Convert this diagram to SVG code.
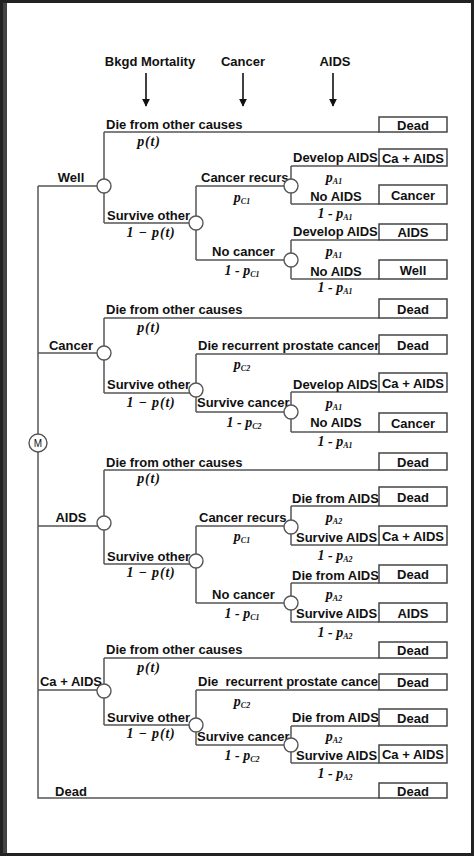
<svg xmlns="http://www.w3.org/2000/svg" width="474" height="856" viewBox="0 0 474 856">
<style>
.ln{stroke:#555;stroke-width:1.5;fill:none}
.ar{stroke:#111;stroke-width:1.6;fill:none}
.box{fill:#fff;stroke:#444;stroke-width:1.5}
.nd{fill:#fff;stroke:#555;stroke-width:1.4}
.t{font-family:"Liberation Sans",Arial,sans-serif;font-weight:bold;font-size:13px;fill:#111;white-space:pre}
.m{text-anchor:middle}
.p{font-family:"Liberation Serif","Times New Roman",serif;font-weight:bold;font-style:italic;font-size:14px;fill:#111;text-anchor:middle}
.pt{letter-spacing:0.8px}
.s{font-size:8px}
</style>
<defs>
<marker id="ah" viewBox="0 0 10 10" refX="9" refY="5" markerWidth="8" markerHeight="8" markerUnits="userSpaceOnUse" orient="auto">
<path d="M0,0 L10,5 L0,10 Z" fill="#111"/>
</marker>
</defs>
<rect x="0" y="0" width="474" height="856" fill="#fff"/>
<rect x="0" y="0" width="7" height="856" fill="#444"/>
<rect x="1.5" y="1.5" width="471" height="853" fill="none" stroke="#222" stroke-width="3"/>

<g id="headers">
<text class="t m" x="150" y="66">Bkgd Mortality</text>
<text class="t m" x="243" y="66">Cancer</text>
<text class="t m" x="335" y="66">AIDS</text>
<path class="ar" d="M146,73 V106" marker-end="url(#ah)"/>
<path class="ar" d="M243,73 V106" marker-end="url(#ah)"/>
<path class="ar" d="M333,73 V106" marker-end="url(#ah)"/>
</g>

<g id="connectors">
<path class="ln" d="M38,186 V798 H379"/>
<path class="ln" d="M38,186 H104 M104,132 V223 M104,132 H379 M104,223 H196 M196,186 V260 M196,186 H291 M196,260 H291 M291,166 V204 M291,166 H379 M291,204 H379 M291,240 V279 M291,240 H379 M291,279 H379"/>
<path class="ln" d="M38,353 H104 M104,318 V393 M104,318 H379 M104,393 H196 M196,354 V412 M196,354 H379 M196,412 H291 M291,392 V432 M291,392 H379 M291,432 H379"/>
<path class="ln" d="M38,526 H104 M104,470 V564 M104,470 H379 M104,564 H196 M196,526 V603 M196,526 H291 M196,603 H291 M291,506 V545 M291,506 H379 M291,545 H379 M291,583 V622 M291,583 H379 M291,622 H379"/>
<path class="ln" d="M38,690 H104 M104,658 V725 M104,658 H379 M104,725 H196 M196,690 V745 M196,690 H379 M196,745 H291 M291,726 V763 M291,726 H379 M291,763 H379"/>

<g id="labels-well">
<text class="t m" x="71" y="182">Well</text>
<text class="t" x="106" y="129">Die from other causes</text>
<text class="p pt" x="149" y="146">p(t)</text>
<text class="t" x="107" y="220">Survive other</text>
<text class="p pt" x="151" y="237">1 − p(t)</text>
<text class="t" x="201" y="182">Cancer recurs</text>
<text class="p" x="242" y="202">p<tspan class="s" dy="2">C1</tspan></text>
<text class="t" x="212" y="256">No cancer</text>
<text class="p" x="242" y="275">1 - p<tspan class="s" dy="2">C1</tspan></text>
<text class="t" x="293" y="162">Develop AIDS</text>
<text class="p" x="334" y="182">p<tspan class="s" dy="2">A1</tspan></text>
<text class="t m" x="336" y="201">No AIDS</text>
<text class="p" x="335" y="218">1 - p<tspan class="s" dy="2">A1</tspan></text>
<text class="t" x="293" y="236">Develop AIDS</text>
<text class="p" x="334" y="256">p<tspan class="s" dy="2">A1</tspan></text>
<text class="t m" x="336" y="276">No AIDS</text>
<text class="p" x="335" y="292">1 - p<tspan class="s" dy="2">A1</tspan></text>
</g>

<g id="labels-cancer">
<text class="t m" x="71" y="350">Cancer</text>
<text class="t" x="106" y="314">Die from other causes</text>
<text class="p pt" x="149" y="332">p(t)</text>
<text class="t" x="107" y="389">Survive other</text>
<text class="p pt" x="151" y="407">1 − p(t)</text>
<text class="t" x="198" y="350">Die recurrent prostate cancer</text>
<text class="p" x="242" y="369">p<tspan class="s" dy="2">C2</tspan></text>
<text class="t" x="197" y="407">Survive cancer</text>
<text class="p" x="244" y="427">1 - p<tspan class="s" dy="2">C2</tspan></text>
<text class="t" x="293" y="389">Develop AIDS</text>
<text class="p" x="334" y="408">p<tspan class="s" dy="2">A1</tspan></text>
<text class="t m" x="336" y="427">No AIDS</text>
<text class="p" x="335" y="446">1 - p<tspan class="s" dy="2">A1</tspan></text>
</g>

<g id="labels-aids">
<text class="t m" x="71" y="522">AIDS</text>
<text class="t" x="106" y="467">Die from other causes</text>
<text class="p pt" x="149" y="483">p(t)</text>
<text class="t" x="107" y="561">Survive other</text>
<text class="p pt" x="151" y="577">1 − p(t)</text>
<text class="t" x="199" y="522">Cancer recurs</text>
<text class="p" x="242" y="541">p<tspan class="s" dy="2">C1</tspan></text>
<text class="t" x="212" y="599">No cancer</text>
<text class="p" x="242" y="618">1 - p<tspan class="s" dy="2">C1</tspan></text>
<text class="t" x="292" y="503">Die from AIDS</text>
<text class="p" x="334" y="522">p<tspan class="s" dy="2">A2</tspan></text>
<text class="t" x="296" y="542">Survive AIDS</text>
<text class="p" x="335" y="560">1 - p<tspan class="s" dy="2">A2</tspan></text>
<text class="t" x="292" y="580">Die from AIDS</text>
<text class="p" x="334" y="599">p<tspan class="s" dy="2">A2</tspan></text>
<text class="t" x="296" y="618">Survive AIDS</text>
<text class="p" x="335" y="637">1 - p<tspan class="s" dy="2">A2</tspan></text>
</g>

<g id="labels-caaids">
<text class="t m" x="71" y="686">Ca + AIDS</text>
<text class="t" x="106" y="654">Die from other causes</text>
<text class="p pt" x="149" y="672">p(t)</text>
<text class="t" x="107" y="722">Survive other</text>
<text class="p pt" x="151" y="738">1 − p(t)</text>
<text class="t" x="198" y="686">Die  recurrent prostate cancer</text>
<text class="p" x="242" y="706">p<tspan class="s" dy="2">C2</tspan></text>
<text class="t" x="197" y="741">Survive cancer</text>
<text class="p" x="242" y="760">1 - p<tspan class="s" dy="2">C2</tspan></text>
<text class="t" x="292" y="722">Die from AIDS</text>
<text class="p" x="334" y="741">p<tspan class="s" dy="2">A2</tspan></text>
<text class="t" x="296" y="760">Survive AIDS</text>
<text class="p" x="335" y="778">1 - p<tspan class="s" dy="2">A2</tspan></text>
<text class="t m" x="71" y="796">Dead</text>
</g>
</g>

<g id="markov-node"><circle class="nd" cx="38" cy="443" r="9"/><text x="38" y="447" text-anchor="middle" font-family="Liberation Sans, Arial, sans-serif" font-size="10" fill="#111">M</text></g>

<g id="well-chance1"><circle class="nd" cx="104" cy="186" r="7"/></g>
<g id="well-chance2"><circle class="nd" cx="196" cy="223" r="7"/></g>
<g id="well-chance3"><circle class="nd" cx="291" cy="186" r="7"/></g>
<g id="well-chance4"><circle class="nd" cx="291" cy="260" r="7"/></g>
<g id="well-t1"><rect class="box" x="379" y="117" width="68" height="15"/><text class="t m" x="413" y="129.5">Dead</text></g>
<g id="well-t2"><rect class="box" x="379" y="149" width="68" height="17"/><text class="t m" x="413" y="162.5">Ca + AIDS</text></g>
<g id="well-t3"><rect class="box" x="379" y="185" width="68" height="19"/><text class="t m" x="413" y="199.5">Cancer</text></g>
<g id="well-t4"><rect class="box" x="379" y="224" width="68" height="16"/><text class="t m" x="413" y="237">AIDS</text></g>
<g id="well-t5"><rect class="box" x="379" y="260" width="68" height="19"/><text class="t m" x="413" y="274.5">Well</text></g>

<g id="cancer-chance1"><circle class="nd" cx="104" cy="353" r="7"/></g>
<g id="cancer-chance2"><circle class="nd" cx="196" cy="390" r="7"/></g>
<g id="cancer-chance3"><circle class="nd" cx="291" cy="412" r="7"/></g>
<g id="cancer-t1"><rect class="box" x="379" y="299" width="68" height="19"/><text class="t m" x="413" y="313.5">Dead</text></g>
<g id="cancer-t2"><rect class="box" x="379" y="335" width="68" height="19"/><text class="t m" x="413" y="349.5">Dead</text></g>
<g id="cancer-t3"><rect class="box" x="379" y="373" width="68" height="19"/><text class="t m" x="413" y="387.5">Ca + AIDS</text></g>
<g id="cancer-t4"><rect class="box" x="379" y="413" width="68" height="19"/><text class="t m" x="413" y="427.5">Cancer</text></g>

<g id="aids-chance1"><circle class="nd" cx="104" cy="523" r="7"/></g>
<g id="aids-chance2"><circle class="nd" cx="196" cy="561" r="7"/></g>
<g id="aids-chance3"><circle class="nd" cx="291" cy="527" r="7"/></g>
<g id="aids-chance4"><circle class="nd" cx="291" cy="603" r="7"/></g>
<g id="aids-t1"><rect class="box" x="379" y="453" width="68" height="17"/><text class="t m" x="413" y="466.5">Dead</text></g>
<g id="aids-t2"><rect class="box" x="379" y="487" width="68" height="19"/><text class="t m" x="413" y="501.5">Dead</text></g>
<g id="aids-t3"><rect class="box" x="379" y="526" width="68" height="19"/><text class="t m" x="413" y="540.5">Ca + AIDS</text></g>
<g id="aids-t4"><rect class="box" x="379" y="565" width="68" height="18"/><text class="t m" x="413" y="579">Dead</text></g>
<g id="aids-t5"><rect class="box" x="379" y="603" width="68" height="19"/><text class="t m" x="413" y="617.5">AIDS</text></g>

<g id="caaids-chance1"><circle class="nd" cx="104" cy="691" r="7"/></g>
<g id="caaids-chance2"><circle class="nd" cx="196" cy="725" r="7"/></g>
<g id="caaids-chance3"><circle class="nd" cx="291" cy="745" r="7"/></g>
<g id="caaids-t1"><rect class="box" x="379" y="642" width="68" height="16"/><text class="t m" x="413" y="655">Dead</text></g>
<g id="caaids-t2"><rect class="box" x="379" y="674" width="68" height="16"/><text class="t m" x="413" y="687">Dead</text></g>
<g id="caaids-t3"><rect class="box" x="379" y="709" width="68" height="17"/><text class="t m" x="413" y="722.5">Dead</text></g>
<g id="caaids-t4"><rect class="box" x="379" y="745" width="68" height="18"/><text class="t m" x="413" y="759">Ca + AIDS</text></g>
<g id="dead-t"><rect class="box" x="379" y="783" width="68" height="15"/><text class="t m" x="413" y="795.5">Dead</text></g>
</svg>
